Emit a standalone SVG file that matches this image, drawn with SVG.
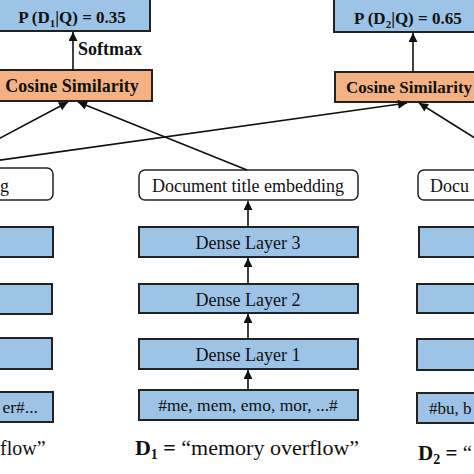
<svg xmlns="http://www.w3.org/2000/svg" width="474" height="474" viewBox="0 0 474 474">
<defs>
<marker id="ah" viewBox="0 0 10 10" refX="10" refY="5" markerWidth="10" markerHeight="9" markerUnits="userSpaceOnUse" orient="auto">
<path d="M0,0 L10,5 L0,10 z" fill="#111"/>
</marker>
<style>
.blue{fill:#9dc3e6;stroke:#222;stroke-width:2}
.orange{fill:#f4b183;stroke:#222;stroke-width:2}
.white{fill:#fff;stroke:#222;stroke-width:1.5}
.t{font-family:"Liberation Serif","Times New Roman",serif;fill:#111}
.b{font-weight:bold}
.c{text-anchor:middle}
.line{stroke:#111;stroke-width:1.6;fill:none;marker-end:url(#ah)}
</style>
</defs>
<rect width="474" height="474" fill="#fff"/>

<g id="p1">
<rect class="blue" x="-6" y="-2" width="156" height="33"/>
<text class="t b c" x="72" y="23" font-size="17">P (D<tspan font-size="11" dy="4">1</tspan><tspan dy="-4">|Q) = 0.35</tspan></text>
</g>
<g id="p2">
<rect class="blue" x="334" y="-2" width="160" height="34"/>
<text class="t b" x="354" y="24" font-size="17">P (D<tspan font-size="11" dy="4">2</tspan><tspan dy="-4">|Q) = 0.65</tspan></text>
</g>
<g id="cos1">
<rect class="orange" x="-7" y="70" width="159" height="31"/>
<text class="t b c" x="72" y="92" font-size="18">Cosine Similarity</text>
</g>
<g id="cos2">
<rect class="orange" x="335" y="72" width="160" height="30"/>
<text class="t b" x="346" y="93" font-size="17">Cosine Similarity</text>
</g>
<text id="softmax" class="t b" x="78" y="55" font-size="18">Softmax</text>

<g id="q-emb">
<rect class="white" x="-166" y="168" width="219" height="32" rx="6"/>
<text class="t" x="0" y="192" font-size="18">g</text>
</g>
<g id="q-d3"><rect class="blue" x="-166" y="227" width="219" height="30"/></g>
<g id="q-d2"><rect class="blue" x="-166" y="284" width="218" height="30"/></g>
<g id="q-d1"><rect class="blue" x="-166" y="338" width="218" height="31"/></g>
<g id="q-in">
<rect class="blue" x="-166" y="392" width="219" height="30"/>
<text class="t" x="38" y="413" font-size="17.5" text-anchor="end">er#...</text>
</g>
<text id="q-label" class="t" x="0" y="455" font-size="20">flow”</text>

<g id="d1-emb">
<rect class="white" x="139" y="170" width="219" height="30" rx="6"/>
<text class="t c" x="248" y="192" font-size="18">Document title embedding</text>
</g>
<g id="d1-l3">
<rect class="blue" x="139" y="227" width="219" height="30"/>
<text class="t c" x="248" y="249" font-size="18">Dense Layer 3</text>
</g>
<g id="d1-l2">
<rect class="blue" x="139" y="284" width="219" height="29"/>
<text class="t c" x="248" y="306" font-size="18">Dense Layer 2</text>
</g>
<g id="d1-l1">
<rect class="blue" x="139" y="339" width="219" height="30"/>
<text class="t c" x="248" y="361" font-size="18">Dense Layer 1</text>
</g>
<g id="d1-in">
<rect class="blue" x="139" y="390" width="219" height="30"/>
<text class="t c" x="248" y="411" font-size="17.5">#me, mem, emo, mor, ...#</text>
</g>
<text id="d1-label" class="t c" x="247" y="455" font-size="22"><tspan class="b">D<tspan font-size="14" dy="4">1</tspan><tspan dy="-4"> = </tspan></tspan>“memory  overflow”</text>

<g id="d2-emb">
<rect class="white" x="418" y="170" width="219" height="30" rx="6"/>
<text class="t" x="430" y="192" font-size="18">Docu</text>
</g>
<g id="d2-l3"><rect class="blue" x="419" y="227" width="219" height="30"/></g>
<g id="d2-l2"><rect class="blue" x="417" y="284" width="219" height="29"/></g>
<g id="d2-l1"><rect class="blue" x="417" y="339" width="219" height="31"/></g>
<g id="d2-in">
<rect class="blue" x="417" y="393" width="219" height="30"/>
<text class="t" x="429" y="414" font-size="17">#bu, b</text>
</g>
<text id="d2-label" class="t" x="418" y="460" font-size="21"><tspan class="b">D<tspan font-size="14" dy="4">2</tspan><tspan dy="-4"> = </tspan></tspan>“</text>

<g id="connectors">
<line class="line" x1="73" y1="70" x2="73" y2="32"/>
<line class="line" x1="413" y1="72" x2="413" y2="33"/>
<line class="line" x1="-56" y1="168" x2="68" y2="102"/>
<line class="line" x1="-56" y1="168" x2="407" y2="103"/>
<line class="line" x1="247" y1="170" x2="78" y2="102"/>
<line class="line" x1="526" y1="170" x2="419" y2="103"/>
<line class="line" x1="248" y1="227" x2="248" y2="201"/>
<line class="line" x1="248" y1="284" x2="248" y2="258"/>
<line class="line" x1="248" y1="339" x2="248" y2="314"/>
<line class="line" x1="248" y1="390" x2="248" y2="370"/>
</g>
</svg>
